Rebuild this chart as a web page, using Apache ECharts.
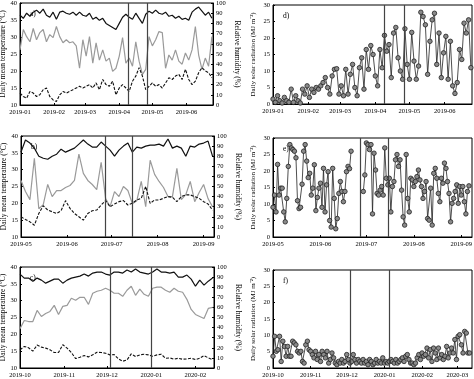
<!DOCTYPE html>
<html><head><meta charset="utf-8">
<script src="https://cdn.jsdelivr.net/npm/echarts@6/dist/echarts.min.js"></script>
<style>html,body{margin:0;padding:0;background:#fff}#c{width:474px;height:379px}</style>
</head><body><div id="c"></div>
<script>
// ---------- DATA ----------
// Panel a / d : 2019-01-01 .. 2019-06-25
const aRH = [88,85,90,87,91,93,90,94,88,86,91,84,91,92,90,89,91,88,91,88,87,90,84,86,83,85,80,78,76,74,80,86,89,86,84,90,85,80,89,92,90,93,90,89,91,87,88,85,87,84,85,83,91,94,96,92,88,91,85];
const aRHmin = [54,74,67,62,75,64,71,74,62,69,66,77,67,61,64,61,62,58,36,64,48,67,41,61,44,54,43,46,33,36,48,66,41,46,38,62,43,30,35,67,58,64,72,71,36,49,44,54,43,40,51,44,54,77,49,35,46,38,67];
const aTemp = [13.5,12.5,12.0,14.0,13.5,12.5,13.0,14.5,15.0,12.5,11.5,11.0,13.0,14.0,13.5,14.0,14.5,15.0,15.5,15.0,15.5,16.0,15.0,16.5,14.5,17.5,16.0,15.5,17.0,13.0,15.0,16.0,15.0,14.0,17.0,18.5,21.0,18.5,14.5,15.5,16.5,15.5,16.0,15.0,16.5,18.0,17.5,18.5,19.0,17.5,20.5,17.5,16.0,17.0,19.5,21.0,20.0,19.5,18.0];
const dSolar = [1.5,0.5,2.5,1.0,0.3,2.0,1.0,0.5,4.5,0.5,2.5,1.0,0.3,4.5,3.0,5.5,2.0,4.5,3.5,5.0,4.5,5.5,6.5,8.0,5.0,3.0,8.5,10.5,10.7,3.0,5.5,2.5,10.5,3.0,9.0,12.0,5.0,2.5,11.0,14.0,4.5,16.5,10.5,17.7,15.0,8.5,5.5,16.5,11.0,20.8,16.0,18.0,8.0,21.5,23.2,14.0,10.0,7.5,22.8,12.0,7.5,21.7,13.0,7.5,11.5,27.8,26.5,24.0,9.0,19.0,25.5,27.5,12.0,21.5,8.0,15.5,20.5,7.5,19.0,5.5,3.2,6.5,16.5,13.5,24.5,21.5,25.5,11.0];
// Panel b / e : 2019-05-01 .. 2019-09-08
const bRH = [84,96,93,88,80,78,77,80,82,87,84,86,88,92,96,92,89,89,94,90,86,80,86,90,93,84,89,88,90,91,91,92,90,97,88,90,88,80,90,89,92,93,95,80];
const bRHmin = [56,45,37,78,28,32,52,40,46,46,49,51,56,82,63,56,52,47,74,38,30,45,40,50,46,33,36,55,30,76,62,55,49,40,40,68,37,42,55,35,44,52,38,30];
const bTemp = [16.0,15.2,14.5,13.5,17.0,19.3,18.0,17.5,17.0,17.8,20.8,18.5,17.0,16.0,15.0,17.0,17.8,18.0,19.5,20.8,19.0,19.8,20.5,20.8,19.5,20.0,21.0,21.5,25.0,20.0,21.0,21.0,21.5,22.0,21.8,20.5,22.0,22.5,22.5,22.0,21.5,20.5,19.8,18.0];
const eSolar = [9.0,12.7,7.6,22.0,12.7,14.8,14.8,7.6,4.6,11.7,21.4,28.0,27.0,26.5,26.0,24.0,11.0,8.6,9.0,16.0,26.0,28.0,23.0,18.0,19.3,12.7,14.8,21.9,8.0,12.0,14.8,16.3,9.0,20.8,7.6,15.8,19.8,5.0,3.0,20.8,11.7,2.5,5.6,13.2,16.8,13.8,10.7,13.8,19.8,21.4,20.7,26.0,
 null,null,null,null,null,null,null,
 13.8,18.8,28.5,28.0,26.5,28.0,7.0,25.4,20.3,13.2,12.7,14.2,15.3,12.7,27.0,17.8,15.8,17.8,7.6,15.3,16.8,23.4,25.0,21.4,23.4,14.2,6.1,3.6,25.0,11.7,7.6,17.8,17.3,15.3,16.8,18.3,20.3,17.3,15.3,11.7,13.8,16.8,5.6,5.1,14.8,3.6,19.3,20.8,17.8,13.2,10.7,17.8,16.3,22.4,20.8,16.8,13.2,4.6,10.2,11.7,13.8,15.8,10.2,15.3,12.7,15.3,10.7,7.0,13.8,15.5];
// Panel c / f : 2019-10-01 .. 2020-02-14 / 2020-03-13
const cRH = [93,89,89,86,89,87,84,86,88,88,84,87,89,90,91,93,91,94,95,95,93,92,95,95,94,97,95,98,95,94,93,95,98,95,95,94,95,90,90,92,88,81,87,82,86,89];
const cRHmin = [39,47,46,46,57,51,54,56,62,53,61,62,69,67,70,70,63,74,76,77,79,77,74,74,71,77,81,72,78,73,71,79,80,80,77,75,79,76,75,68,58,53,51,49,59,60];
const cTemp = [15.4,16.4,16.0,15.0,16.8,16.2,15.9,15.4,14.6,14.6,16.9,15.9,14.6,12.8,13.2,13.7,13.3,13.9,14.7,14.6,14.4,13.9,14.0,12.7,12.0,12.4,14.2,13.4,13.9,14.1,13.9,13.5,13.9,14.1,12.9,13.0,12.6,12.9,12.6,12.7,12.9,12.5,12.9,13.7,13.0,12.5];
const fSolar = [3.6,9.7,5.1,5.6,9.7,2.0,8.2,6.6,3.6,6.6,3.6,3.6,8.2,7.7,7.1,5.1,4.6,5.1,2.0,1.5,7.1,8.2,5.6,5.1,4.1,3.1,5.1,2.6,4.1,2.0,5.1,4.1,3.1,5.1,1.5,2.6,4.6,3.1,1.5,1.0,2.0,1.5,2.6,1.5,2.0,4.1,2.6,1.5,2.0,4.1,2.6,1.5,2.6,2.0,1.5,2.6,1.5,2.0,1.0,2.6,2.0,1.0,1.5,2.6,1.5,2.0,1.5,3.1,1.5,2.0,1.5,2.0,2.6,2.0,1.5,2.6,1.5,2.0,2.6,3.1,2.0,3.6,4.1,2.6,1.5,1.5,1.0,1.5,3.1,4.1,2.6,4.6,3.6,4.1,6.1,3.1,5.6,2.0,6.1,4.6,2.6,6.1,3.1,4.1,2.6,3.6,6.6,3.1,4.6,6.1,4.6,8.7,2.6,9.7,10.2,7.1,4.6,11.2,10.7,4.6,4.6];

// date spans of each row, and vertical marker dates
const spanA = ['2019-01-01','2019-06-24'], rangeA = ['2019-01-01','2019-06-25'], vA = ['2019-04-09','2019-04-26'], vD = ['2019-04-09','2019-04-26'];
const spanB = ['2019-05-01','2019-09-07'], spanE = ['2019-05-01','2019-09-06'], rangeB = ['2019-05-01','2019-09-08'], vB = ['2019-06-27','2019-07-15'], vE = ['2019-06-27','2019-07-15'];
const spanC = ['2019-10-01','2020-02-13'], rangeC = ['2019-10-01','2020-02-14'], vC = ['2019-12-03','2020-01-01'];
const spanF = ['2019-10-01','2020-03-11'], rangeF = ['2019-10-01','2020-03-13'], vF = ['2019-12-04','2020-01-05'];
const tempTicks = [10,40,5], rhTicks = [0,100,10], solarTicks = [0,30,5];
const letters = ['a)','d)','b)','e)','c)','f)'];

// ---------- CHART ----------
const FONT = 'Liberation Serif';
function pd(s){const [y,m,d]=s.split('-').map(Number);return new Date(y,m-1,d).getTime();}
function spread(vals,span){const t0=pd(span[0]),t1=pd(span[1]),n=vals.length;return vals.map((v,i)=>[t0+(t1-t0)*i/(n-1),v]);}

const grids = [
 {left:20,top:3,width:193,height:102},
 {left:273,top:5,width:199,height:99},
 {left:21,top:136,width:193,height:101},
 {left:273,top:138,width:199,height:99},
 {left:20,top:267,width:194,height:101},
 {left:273,top:270,width:199,height:98}
].map(g=>Object.assign({show:true,borderColor:'#000',borderWidth:1,containLabel:false,outerBoundsMode:'none'},g));

const ranges=[rangeA,rangeA,rangeB,rangeB,rangeC,rangeF];
const xAxes = ranges.map((r,i)=>({type:'time',gridIndex:i,min:pd(r[0]),max:pd(r[1]),
  minInterval:27*864e5,maxInterval:31*864e5,
  axisLine:{lineStyle:{color:'#000',width:1}},
  axisTick:{show:true,inside:true,length:2,lineStyle:{color:'#000'}},
  splitLine:{show:false},
  axisLabel:{formatter:'{yyyy}-{MM}',fontSize:6.5,fontFamily:FONT,color:'#000',margin:4,hideOverlap:false,showMinLabel:true}}));

function yax(grid,t,name,pos,rot,gap,fs){
  return {type:'value',gridIndex:grid,min:t[0],max:t[1],interval:t[2],position:pos,
   name:name,nameLocation:'middle',nameRotate:rot,nameGap:gap,
   nameTextStyle:{fontSize:fs,fontFamily:FONT,color:'#000'},
   axisLine:{show:true,lineStyle:{color:'#000'}},
   axisTick:{show:true,inside:true,length:2,lineStyle:{color:'#000'}},
   splitLine:{show:false},
   axisLabel:{fontSize:6.5,fontFamily:FONT,color:'#000',margin:3}};
}
const T='Daily mean temperature (°C)', R='Relative humidity (%)', S='Daily solar radiation (MJ m⁻²)';
const yAxes = [
 yax(0,tempTicks,T,'left',90,13,7.5), yax(0,rhTicks,R,'right',-90,20,7.5), // 0,1
 yax(1,solarTicks,S,'left',90,16,7),                                         // 2
 yax(2,tempTicks,T,'left',90,13,7.5), yax(2,rhTicks,R,'right',-90,20,7.5),  // 3,4
 yax(3,solarTicks,S,'left',90,16,7),                                         // 5
 yax(4,tempTicks,T,'left',90,13,7.5), yax(4,rhTicks,R,'right',-90,20,7.5),  // 6,7
 yax(5,solarTicks,S,'left',90,16,7)                                          // 8
];

function ml(v){return {symbol:'none',silent:true,label:{show:false},lineStyle:{color:'#444',type:'solid',width:1.2},data:v.map(d=>({xAxis:pd(d)}))};}
function rhS(x,y,data,v){return {type:'line',xAxisIndex:x,yAxisIndex:y,data,showSymbol:false,symbol:'none',lineStyle:{color:'#111',width:1.2},z:4,markLine:ml(v)};}
function grayS(x,y,data){return {type:'line',xAxisIndex:x,yAxisIndex:y,data,showSymbol:false,symbol:'none',lineStyle:{color:'#9a9a9a',width:1.2},z:3};}
function tempS(x,y,data){return {type:'line',xAxisIndex:x,yAxisIndex:y,data,showSymbol:false,symbol:'none',lineStyle:{color:'#111',width:1.1,type:[3,1.5]},z:3};}
function solS(x,y,data,v){return {type:'line',xAxisIndex:x,yAxisIndex:y,data,connectNulls:false,symbol:'circle',symbolSize:4.5,showSymbol:true,
  lineStyle:{color:'#222',width:0.8},itemStyle:{color:'#8a8a8a',borderColor:'#222',borderWidth:0.8},z:3,markLine:ml(v)};}

const series = [
 rhS(0,1,spread(aRH,spanA),vA), grayS(0,1,spread(aRHmin,spanA)), tempS(0,0,spread(aTemp,spanA)),
 solS(1,2,spread(dSolar,spanA),vD),
 rhS(2,4,spread(bRH,spanB),vB), grayS(2,4,spread(bRHmin,spanB)), tempS(2,3,spread(bTemp,spanB)),
 solS(3,5,spread(eSolar,spanE),vE),
 rhS(4,7,spread(cRH,spanC),vC), grayS(4,7,spread(cRHmin,spanC)), tempS(4,6,spread(cTemp,spanC)),
 solS(5,8,spread(fSolar,spanF),vF)
];

const titles = letters.map((t,i)=>({text:t,left:grids[i].left+5,top:grids[i].top+2,
  textStyle:{fontSize:7.5,fontFamily:FONT,fontWeight:'normal',color:'#000'}}));

const chart = echarts.init(document.getElementById('c'),null,{renderer:'canvas'});
chart.setOption({backgroundColor:'#fff',animation:false,title:titles,grid:grids,xAxis:xAxes,yAxis:yAxes,series});
</script></body></html>
